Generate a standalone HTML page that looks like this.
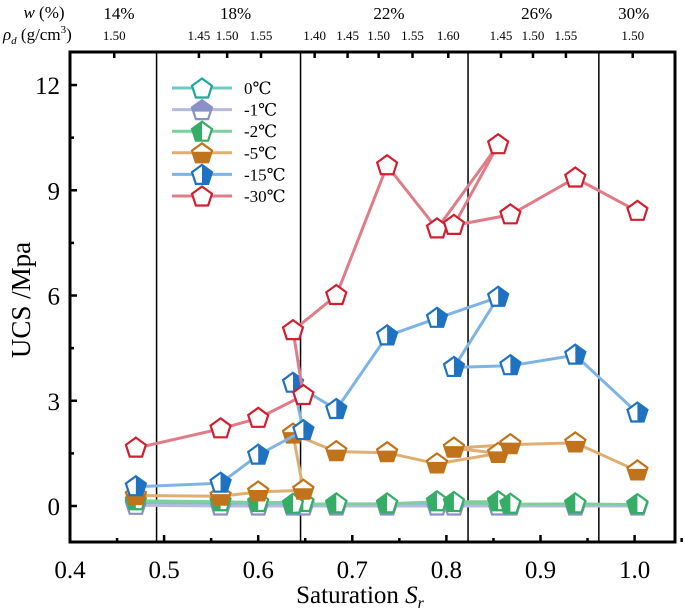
<!DOCTYPE html>
<html><head><meta charset="utf-8"><style>
html,body{margin:0;padding:0;background:#fff;}
svg{display:block;font-family:"Liberation Serif","DejaVu Serif","Noto Serif CJK SC",serif;}
svg text{font-family:"Liberation Serif","DejaVu Serif","Noto Serif CJK SC",serif;}
</style></head><body>
<svg id="chart" width="685" height="611" viewBox="0 0 685 611" xmlns="http://www.w3.org/2000/svg">
<defs>
<clipPath id="cl-left"><rect x="-14" y="-14" width="14" height="28"/></clipPath>
<clipPath id="cl-right"><rect x="0" y="-14" width="14" height="28"/></clipPath>
<clipPath id="cl-top"><rect x="-14" y="-14" width="28" height="15"/></clipPath>
<clipPath id="cl-bottom"><rect x="-14" y="-2" width="28" height="16"/></clipPath>
</defs>
<g id="plot"></g>
</svg>
<script>
const xs = [0.47, 0.56, 0.60, 0.648, 0.637, 0.683, 0.737, 0.79, 0.855, 0.808, 0.868, 0.937, 1.003];
const seriesNames = ["0℃", "-1℃", "-2℃", "-5℃", "-15℃", "-30℃"];
const v0 = [0.08, 0.05, 0.04, 0.05, 0.03, 0.02, 0.03, 0.05, 0.06, 0.04, 0.02, 0.03, 0.02];
const v1 = [0.02, 0.0, 0.0, 0.0, 0.0, 0.0, 0.0, 0.0, 0.0, 0.0, 0.0, 0.0, 0.0];
const v2 = [0.15, 0.12, 0.10, 0.10, 0.05, 0.06, 0.06, 0.12, 0.12, 0.10, 0.05, 0.06, 0.04];
const v5 = [0.3, 0.28, 0.4, 0.45, 2.05, 1.55, 1.52, 1.2, 1.5, 1.65, 1.75, 1.8, 1.0];
const v15 = [0.55, 0.65, 1.45, 2.15, 3.5, 2.75, 4.85, 5.35, 5.95, 3.95, 4.0, 4.3, 2.65];
const v30 = [1.65, 2.2, 2.5, 3.15, 5.0, 6.0, 9.7, 7.9, 10.3, 8.0, 8.3, 9.35, 8.4];
const xTicks = [0.4, 0.5, 0.6, 0.7, 0.8, 0.9, 1.0];
const yTicks = [0, 3, 6, 9, 12];
const wLabels = ["14%", "18%", "22%", "26%", "30%"];
const wPos = [0.452, 0.576, 0.739, 0.896, 0.999];
const rhoLabels = ["1.50","1.45","1.50","1.55","1.40","1.45","1.50","1.55","1.60","1.45","1.50","1.55","1.50"];
const rhoPos = [0.447, 0.537, 0.567, 0.603, 0.660, 0.695, 0.728, 0.764, 0.802, 0.858, 0.892, 0.927, 0.998];
const separators = [0.492, 0.645, 0.823, 0.962];

const L=70,R=675,T=52,B=542;
const X=v=>70+(v-0.4)*941;
const Y=v=>506-v*35.08;
const NS="http://www.w3.org/2000/svg";
const g=document.getElementById('plot');
function mk(tag,attrs,parent){const e=document.createElementNS(NS,tag);for(const k in attrs)e.setAttribute(k,attrs[k]);(parent||g).appendChild(e);return e;}
function pent(r){let p=[];for(let i=0;i<5;i++){const a=-Math.PI/2+i*2*Math.PI/5;p.push((r*Math.cos(a)).toFixed(2)+","+(r*Math.sin(a)).toFixed(2));}return p.join(" ");}
const P=pent(10.5);

separators.forEach(s=>{
  const l=mk('line',{x1:X(s),x2:X(s),y1:T,y2:B,stroke:'#000','stroke-width':1.5});
  
  
});

const styles=[
 {data:v0,line:'#6fc9bf',stroke:'#1aa89a',fill:null,clip:null},
 {data:v1,line:'#b5badf',stroke:'#8a90c8',fill:'#8a90c8',clip:'cl-top'},
 {data:v2,line:'#7fcf9c',stroke:'#36ad66',fill:'#36ad66',clip:'cl-left'},
 {data:v5,line:'#dfae72',stroke:'#c0731a',fill:'#c0731a',clip:'cl-bottom'},
 {data:v15,line:'#7eb3e3',stroke:'#1f72c2',fill:'#1f72c2',clip:'cl-right'},
 {data:v30,line:'#e07c88',stroke:'#d11f30',fill:null,clip:null}
];
function marker(parent,x,y,s){
  const m=mk('g',{transform:`translate(${x},${y})`},parent);
  mk('polygon',{points:P,fill:'#fff'},m);
  if(s.fill) mk('polygon',{points:P,fill:s.fill,'clip-path':`url(#${s.clip})`},m);
  mk('polygon',{points:P,fill:'none',stroke:s.stroke,'stroke-width':2.2},m);
  return m;
}
styles.forEach((s,si)=>{
  const grp=mk('g',{});
  
  
  const pts=xs.map((x,i)=>X(x).toFixed(1)+","+Y(s.data[i]).toFixed(1)).join(" ");
  const pl=mk('polyline',{points:pts,fill:'none',stroke:s.line,'stroke-width':3},grp);
  
  
  xs.forEach((x,i)=>{
    const m=marker(grp,X(x),Y(s.data[i]),s);
    
    
  });
});

styles.forEach((s,i)=>{
  const y=88+i*21.6;
  const lg=mk('g',{});
  
  
  mk('line',{x1:172,x2:232,y1:y,y2:y,stroke:s.line,'stroke-width':3},lg);
  marker(lg,202,y+1,s);
  const t=mk('text',{x:244,y:y+6,'font-size':17},lg);t.textContent=seriesNames[i];
});

const fr=mk('rect',{x:L,y:T,width:R-L,height:B-T,fill:'none',stroke:'#000','stroke-width':3});


xTicks.forEach(v=>{
  mk('line',{x1:X(v),x2:X(v),y1:B,y2:B-7,stroke:'#000','stroke-width':2.5});
  mk('line',{x1:X(v+0.05),x2:X(v+0.05),y1:B,y2:B-4,stroke:'#000','stroke-width':2.5});
  const t=mk('text',{x:X(v),y:578,'font-size':25,'text-anchor':'middle'});
  t.textContent=v.toFixed(1);
  
  
});
yTicks.forEach(v=>{
  mk('line',{x1:L,x2:L+7,y1:Y(v),y2:Y(v),stroke:'#000','stroke-width':2.5});
  if(v<12) mk('line',{x1:L,x2:L+4,y1:Y(v+1.5),y2:Y(v+1.5),stroke:'#000','stroke-width':2.5});
  const t=mk('text',{x:L-10,y:Y(v)+9,'font-size':25,'text-anchor':'end'});
  t.textContent=v;
  
  
});
rhoPos.forEach(v=>{mk('line',{x1:X(v),x2:X(v),y1:T,y2:T+6,stroke:'#000','stroke-width':2.5});});
wLabels.forEach((w,i)=>{
  const t=mk('text',{x:X(wPos[i]),y:19,'font-size':17,'text-anchor':'middle'});
  t.textContent=w;
  
  
});
rhoLabels.forEach((r,i)=>{
  const t=mk('text',{x:X(rhoPos[i]),y:40,'font-size':13,'text-anchor':'middle'});
  t.textContent=r;
  
  
});
const wt=mk('text',{x:44,y:18,'font-size':17,'text-anchor':'middle'});
wt.innerHTML='<tspan font-style="italic">w</tspan> (%)';


const rt=mk('text',{x:3,y:40,'font-size':17});
rt.innerHTML='<tspan font-style="italic">ρ</tspan><tspan font-style="italic" font-size="11" dy="4">d</tspan><tspan dy="-4"> (g/cm</tspan><tspan font-size="11" dy="-7">3</tspan><tspan dy="7">)</tspan>';


const xt=mk('text',{x:360,y:603,'font-size':25,'text-anchor':'middle'});
xt.innerHTML='Saturation <tspan font-style="italic">S</tspan><tspan font-style="italic" font-size="16" dy="5">r</tspan>';


const yt=mk('text',{x:0,y:0,'font-size':27,'text-anchor':'middle',transform:'translate(30,300) rotate(-90)'});
yt.textContent='UCS /Mpa';


</script>
</body></html>
